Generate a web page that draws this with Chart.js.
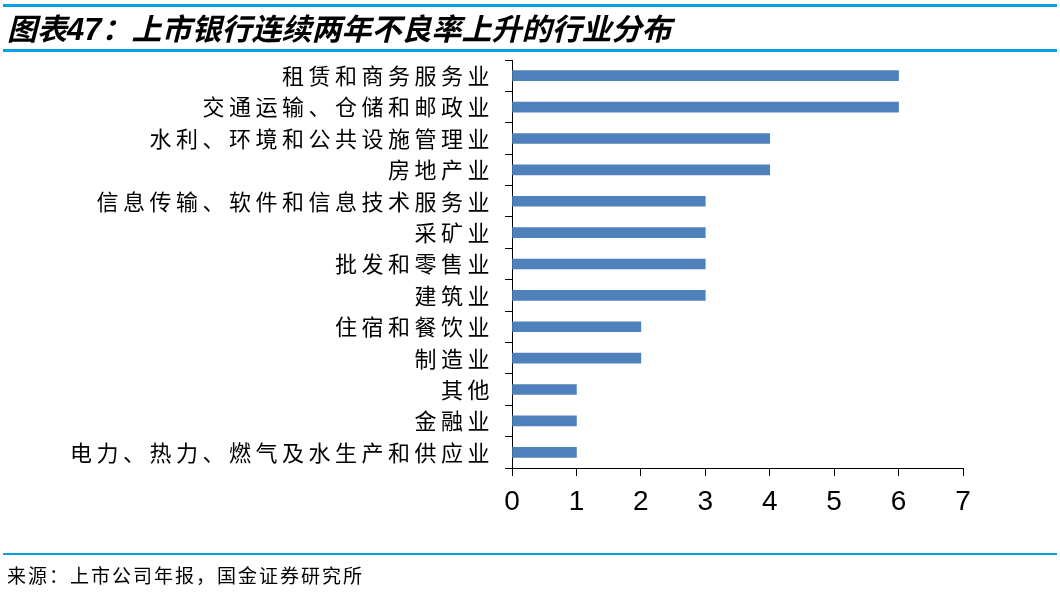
<!DOCTYPE html>
<html>
<head>
<meta charset="utf-8">
<script src="https://cdn.jsdelivr.net/npm/chart.js@4/dist/chart.umd.min.js"></script>
<style>
  html, body { margin: 0; padding: 0; background: #fff; }
  #wrap { position: relative; width: 1060px; height: 594px; overflow: hidden; }
  #c { position: absolute; left: 0; top: 0; }
  .line { position: absolute; left: 3px; width: 1054px; background: #0a9ee2; }
  #title { position: absolute; left: 7px; top: 7px; font-family: "Noto Sans CJK SC", sans-serif;
           font-size: 30px; font-style: italic; font-weight: bold; color: #000; white-space: nowrap; line-height: 40px; }
  #title .num { font-family: "Liberation Sans", Arial, sans-serif; font-size: 31px; }
  #foot { position: absolute; left: 7px; top: 562px; font-family: "Noto Sans CJK SC", sans-serif;
          font-size: 19px; color: #000; white-space: nowrap; line-height: 26px; letter-spacing: 2px; }
</style>
</head>
<body>
<div id="wrap">
  <canvas id="c" width="1060" height="594"></canvas>
  <div class="line" style="top:4px;height:3px;"></div>
  <div id="title">图表<span class="num">47</span>：上市银行连续两年不良率上升的行业分布</div>
  <div class="line" style="top:49px;height:3px;"></div>
  <div class="line" style="top:553px;height:2px;"></div>
  <div id="foot">来源：上市公司年报，国金证券研究所</div>
</div>
<script>
const categories = [
  "租赁和商务服务业",
  "交通运输、仓储和邮政业",
  "水利、环境和公共设施管理业",
  "房地产业",
  "信息传输、软件和信息技术服务业",
  "采矿业",
  "批发和零售业",
  "建筑业",
  "住宿和餐饮业",
  "制造业",
  "其他",
  "金融业",
  "电力、热力、燃气及水生产和供应业"
];
const values = [6, 6, 4, 4, 3, 3, 3, 3, 2, 2, 1, 1, 1];
const xTicks = [0, 1, 2, 3, 4, 5, 6, 7];

new Chart(document.getElementById('c'), {
  type: 'bar',
  data: {
    labels: categories,
    datasets: [{
      data: values,
      backgroundColor: '#4f81bd',
      borderWidth: 0,
      barThickness: 10
    }]
  },
  options: {
    indexAxis: 'y',
    responsive: false,
    animation: false,
    devicePixelRatio: 1,
    layout: { padding: { top: 60, right: 97, left: 0, bottom: 0 } },
    plugins: { legend: { display: false }, tooltip: { enabled: false } },
    scales: {
      x: {
        min: 0, max: 7,
        afterBuildTicks(scale) { scale.ticks = xTicks.map(v => ({ value: v })); },
        afterFit(scale) { scale.height = 594 - 468; },
        border: { display: true, color: '#000', width: 1 },
        grid: { display: true, drawOnChartArea: false, drawTicks: true, tickLength: 8, color: '#000' },
        ticks: {
          color: '#000', padding: 9, maxRotation: 0,
          font: { family: '"Liberation Sans", Arial, sans-serif', size: 28 }
        }
      },
      y: {
        afterFit(scale) { scale.width = 512; },
        border: { display: true, color: '#000', width: 1 },
        grid: { display: true, offset: true, drawOnChartArea: false, drawTicks: true, tickLength: 7, color: '#000' },
        ticks: {
          color: '#000', padding: 11, autoSkip: false,
          font: { family: '"Noto Sans CJK SC", sans-serif', size: 22 }
        }
      }
    }
  },
  plugins: [{
    id: 'ySpacing',
    beforeDraw(chart) {
      const ys = chart.scales.y;
      if (!ys._wrapped) {
        const orig = ys.drawLabels.bind(ys);
        ys.drawLabels = function (area) {
          const ctx = this.ctx;
          ctx.save();
          ctx.letterSpacing = '4.5px';
          orig(area);
          ctx.restore();
        };
        ys._wrapped = true;
      }
    }
  }]
});
</script>
</body>
</html>
